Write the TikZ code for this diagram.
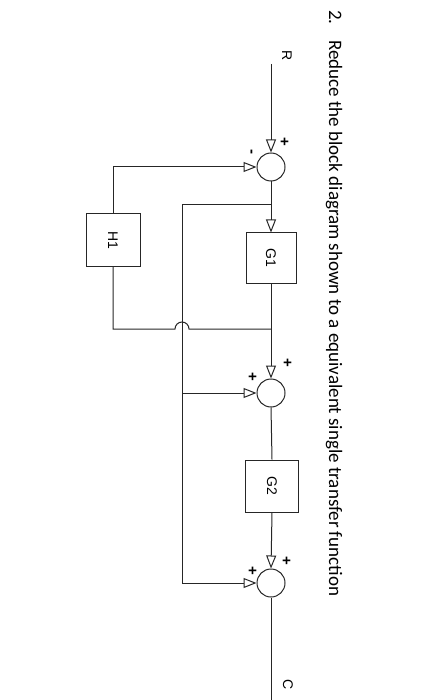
\documentclass[tikz,border=0pt]{standalone}
\usepackage{fontspec}
\setmainfont{Carlito}
\newfontfamily\arialf{Liberation Sans}
\usetikzlibrary{arrows.meta}
\tikzset{
  wire/.style={line width=1pt, draw=black!85},
  arr/.style={wire, -{Triangle[open, length=13pt, width=10pt, line width=1pt]}},
  blk/.style={draw=black!85, line width=1pt, minimum width=#1, inner sep=0pt},
  sumj/.style={circle, draw=black!85, line width=1pt, minimum size=28pt, inner sep=0pt},
  lbl/.style={rotate=-90, font=\arialf\fontsize{14}{14}\selectfont, inner sep=0pt},
  sgn/.style={rotate=-90, font=\arialf\fontsize{15}{15}\selectfont\bfseries, inner sep=0pt}
}
\begin{document}
\begin{tikzpicture}[x=1pt, y=-1pt]
\useasboundingbox (0,0) rectangle (434,700);
% title
\node[rotate=-90, anchor=base west, inner sep=0pt, font=\fontsize{19}{19}\selectfont] (num) at (329,10) {2.};
\node[rotate=-90, anchor=base west, inner sep=0pt, font=\fontsize{19}{19}\selectfont] (title) at (329,40) {Reduce the block diagram shown to a equivalent single transfer function};
% nodes
\coordinate (rin) at (271,64);
\node[lbl] (R) at (287,56) {R};
\node[sumj] (s1) at (271,167) {};
\coordinate (b1) at (271,205);
\coordinate (b1l) at (182,205);
\node[blk=50pt, minimum height=50pt] (G1) at (271,258) {};
\node[lbl] (G1t) at (G1) {G1};
\coordinate (t1) at (271,329);
\node[blk=54pt, minimum height=53pt] (H1) at (113,240) {};
\node[lbl] (H1t) at (H1) {H1};
\node[sumj] (s2) at (271,393) {};
\node[blk=53pt, minimum height=52pt] (G2) at (272,486) {};
\node[lbl] (G2t) at (G2) {G2};
\node[sumj] (s3) at (271,583) {};
\coordinate (cout) at (271,702);
\node[lbl] (C) at (288,685) {C};
\coordinate (hopR) at (189,329);
\coordinate (hopL) at (175,329);
\coordinate (v2) at (182,393);
\coordinate (v3) at (182,583);
% signs
\node[sgn] (p1) at (284,142) {+};
\node[sgn] (m1) at (250,152) {-};
\node[sgn] (p2a) at (287,363) {+};
\node[sgn] (p2b) at (252,377) {+};
\node[sgn] (p3a) at (286,561) {+};
\node[sgn] (p3b) at (252,571) {+};
% connectors
\draw[arr] (rin) -- (s1.north);
\draw[arr] (s1.south) -- (G1.north);
\draw[wire] (b1) -- (b1l) -- (v3);
\draw[arr] (v3) -- (s3.west);
\draw[arr] (v2) -- (s2.west);
\draw[arr] (G1.south) -- (s2.north);
\draw[wire] (t1) -- (hopR) arc[start angle=0, end angle=180, radius=7pt] -- (hopL) -| (H1.south);
\draw[arr] (H1.north) |- (s1.west);
\draw[wire] (s2.south) -- (G2.north);
\draw[arr] (G2.south) -- (s3.north);
\draw[wire] (s3.south) -- (cout);
\end{tikzpicture}
\end{document}
